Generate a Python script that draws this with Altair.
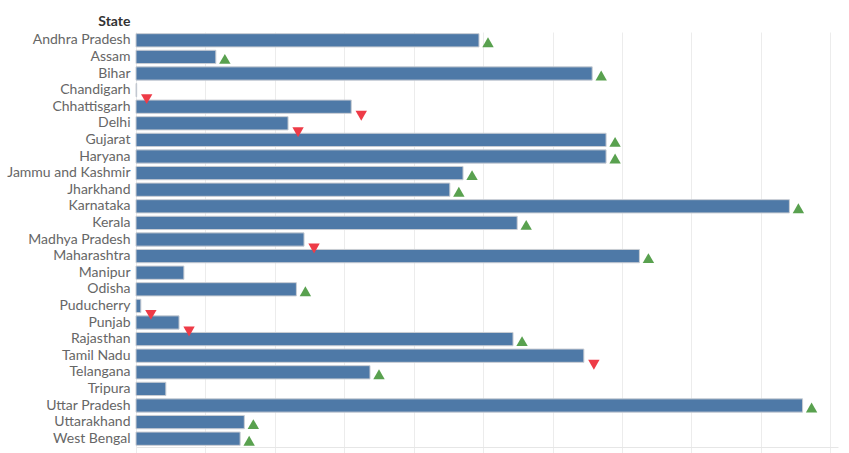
import altair as alt
import pandas as pd

states = ["Andhra Pradesh", "Assam", "Bihar", "Chandigarh", "Chhattisgarh", "Delhi",
          "Gujarat", "Haryana", "Jammu and Kashmir", "Jharkhand", "Karnataka", "Kerala",
          "Madhya Pradesh", "Maharashtra", "Manipur", "Odisha", "Puducherry", "Punjab",
          "Rajasthan", "Tamil Nadu", "Telangana", "Tripura", "Uttar Pradesh",
          "Uttarakhand", "West Bengal"]
values = [494, 115, 657, 1, 310, 219, 677, 677, 471, 452, 941, 549, 242, 725, 69, 231,
          7, 62, 543, 645, 337, 43, 960, 156, 150]
trend = ["up", "up", "up", "down", "down", "down", "up", "up", "up", "up", "up", "up",
         "down", "up", "none", "up", "down", "down", "up", "down", "up", "none", "up",
         "up", "up"]

df = pd.DataFrame({"State": states, "Value": values, "Trend": trend})

FONT = "Lato"
xscale = alt.Scale(domain=[0, 1011], nice=False, zero=True)
yenc = alt.Y("State:N", sort=None,
             scale=alt.Scale(paddingInner=0.2, paddingOuter=0.1),
             axis=alt.Axis(title="State", titleAngle=0, titleAlign="right",
                           titleBaseline="middle", titleX=-6, titleY=-11,
                           titleFont=FONT, titleFontSize=14, titleFontWeight="bold",
                           titleColor="#333333", labelFont=FONT, labelFontSize=14,
                           labelColor="#666666", labelPadding=6, ticks=False,
                           domain=False, grid=False))

xaxis = alt.Axis(title=None, labels=False, ticks=True, tickSize=7, tickColor="#ececec",
                 domain=True, domainColor="#e6e6e6", grid=True, gridColor="#ececec",
                 values=list(range(0, 1001, 100)))

bars = alt.Chart(df).mark_bar(color="#4e79a7", stroke="#c9cdd3", strokeWidth=1).encode(
    x=alt.X("Value:Q", scale=xscale, axis=xaxis),
    y=yenc,
)

up = alt.Chart(df).transform_filter(alt.datum.Trend == "up").mark_point(
    shape="triangle-up", filled=True, color="#59a14f", opacity=1, size=130,
    xOffset=9, yOffset=2).encode(
    x=alt.X("Value:Q", scale=xscale),
    y=alt.Y("State:N", sort=None),
)

down = alt.Chart(df).transform_filter(alt.datum.Trend == "down").mark_point(
    shape="triangle-down", filled=True, color="#ee3b47", opacity=1, size=130,
    xOffset=10, yOffset=9).encode(
    x=alt.X("Value:Q", scale=xscale),
    y=alt.Y("State:N", sort=None),
)

chart = alt.layer(bars, up, down).properties(
    width=702, height=415,
    autosize=alt.AutoSizeParams(type="none"),
    padding={"left": 136, "top": 32, "right": 11, "bottom": 6},
    background="white",
).configure_view(stroke=None)

chart.save("out.html", embed_options={"renderer": "svg", "actions": False})
